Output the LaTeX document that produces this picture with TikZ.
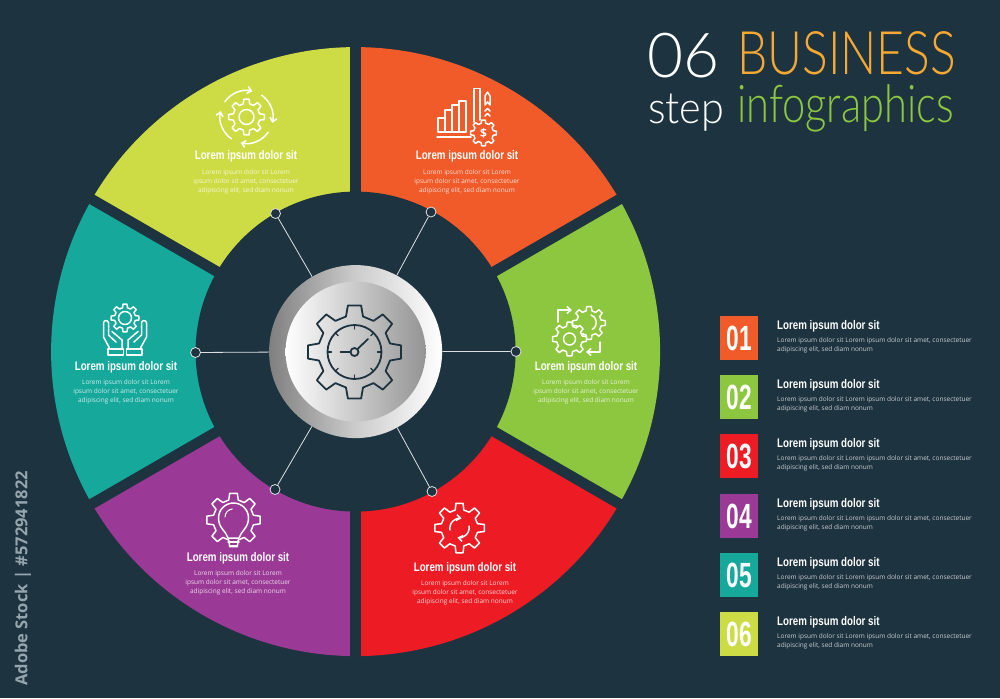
\documentclass[tikz,border=0pt]{standalone}
\usepackage{fontspec}
\usepackage{tikz}
\usetikzlibrary{arrows.meta}
\setmainfont{Open Sans}
\newfontfamily\headfont[FakeStretch=0.78]{Liberation Sans}
\newfontfamily\numfont[FakeStretch=0.65]{Liberation Sans}
\newfontfamily\titlefont{Lato Light}
\newfontfamily\stepfont[FakeStretch=0.94]{Lato Light}
\newfontfamily\busfont[FakeStretch=0.8]{Lato Light}
\newfontfamily\infofont[FakeStretch=0.8]{Lato Light}
\definecolor{bgdark}{HTML}{1E3340}
\definecolor{cOrange}{HTML}{F15A29}
\definecolor{cGreen}{HTML}{8DC63F}
\definecolor{cRed}{HTML}{ED1C24}
\definecolor{cPurple}{HTML}{9B3A96}
\definecolor{cTeal}{HTML}{15A89B}
\definecolor{cYellow}{HTML}{CDDC44}
\definecolor{cTitle}{HTML}{F7A833}
\definecolor{cInfo}{HTML}{8DC63F}
\definecolor{cMark}{HTML}{94A5AE}
\tikzset{
  iconline/.style={draw=white, line width=1.5pt, line cap=round, line join=round},
  iconfill/.style={iconline, fill=cGreen},
  darkline/.style={draw=bgdark, line width=1.8pt, line cap=round, line join=round},
  linkline/.style={draw=white!85!bgdark, line width=0.8pt},
  dotnode/.style={circle, draw=white!85!bgdark, fill=bgdark, line width=0.8pt, minimum size=10pt, inner sep=0pt},
  headtext/.style={text=white, font=\headfont\bfseries\fontsize{12.5}{13}\selectfont},
  bodytext/.style={text=white, text opacity=0.8, align=center, font=\fontsize{6.5}{8.9}\selectfont},
  legtext/.style={text=white!75!bgdark, align=left, anchor=north west, inner sep=0pt, font=\fontsize{6.5}{9}\selectfont},
  numbox/.style={minimum width=38pt, minimum height=44pt, inner sep=0pt, text=white, font=\numfont\bfseries\fontsize{35}{35}\selectfont}
}
% x, y, outer radius, base radius, teeth, line style
\newcommand{\gearicon}[6]{
  \pgfmathsetmacro{\gst}{360/#5}
  \pgfmathsetmacro{\gto}{0.18*\gst}
  \pgfmathsetmacro{\gtb}{0.3*\gst}
  \draw[#6,shift={(#1,#2)}] ({-\gtb}:#4)
    \foreach \i in {1,...,#5} {
      -- ({(\i-1)*\gst-\gtb}:#4) -- ({(\i-1)*\gst-\gto}:#3)
      -- ({(\i-1)*\gst+\gto}:#3) -- ({(\i-1)*\gst+\gtb}:#4)
    } -- cycle;
}
\begin{document}
\begin{tikzpicture}[x=1pt,y=1pt,yscale=-1]
  \useasboundingbox (0,0) rectangle (1000,698);
  \fill[bgdark] (0,0) rectangle (1000,698);

  % ring
  \begin{scope}[shift={(355.6,351.6)}]
    \foreach \a/\c in {-90/cOrange,-30/cGreen,30/cRed,90/cPurple,150/cTeal,210/cYellow} {
      \fill[\c] (0,0) -- (\a:304.5) arc[start angle=\a, end angle=\a+60, radius=304.5] -- cycle;
    }
    \foreach \a in {-90,-30,30} {
      \draw[bgdark, line width=10.5pt] (\a:320) -- ({\a+180}:320);
    }
    \fill[bgdark] (0,0) circle (160);
  \end{scope}

  % hub
  \node[circle, minimum size=173pt, inner sep=0pt, left color=black!50, right color=white, middle color=black!20] (hub) at (355.6,351.6) {};
  \node[circle, minimum size=140pt, inner sep=0pt, left color=white, right color=black!42] (hubin) at (355.6,351.6) {};

  \node[dotnode] (n1) at (431,212) {};
  \node[dotnode] (n2) at (516,351.5) {};
  \node[dotnode] (n3) at (432,491.5) {};
  \node[dotnode] (n4) at (275,489.5) {};
  \node[dotnode] (n5) at (195.5,352.5) {};
  \node[dotnode] (n6) at (275.5,213.5) {};
  \foreach \n in {n1,n2,n3,n4,n5,n6} {
    \draw[linkline] (hub) -- (\n);
  }

  % hub gear
  \gearicon{354.5}{352}{47}{36.5}{8}{darkline}
  \draw[darkline] (354.5,352) circle (27);
  \draw[darkline] (354.5,352) circle (4);
  \draw[darkline] (350.5,352) -- (340.5,352);
  \draw[darkline] (357.5,349) -- (368,339);
  \foreach \a in {0,45,...,315} {
    \draw[darkline, line width=1.1pt, shift={(354.5,352)}] (\a:27) -- (\a:23);
  }

  % wedge texts
  \foreach \x/\y in {246/156.5,467/156.5,586/367,465/568,238/558,126/367} {
    \node[headtext] at (\x,\y) {Lorem ipsum dolor sit};
    \node[bodytext, anchor=north] at (\x,\y+9.5) {Lorem ipsum dolor sit Lorem\\ipsum dolor sit amet, consectetuer\\adipiscing elit, sed diam nonum};
  }

  % icon yellow
  \gearicon{246.5}{117}{18}{13.5}{8}{iconline}
  \draw[iconline] (246.5,117) circle (7.5);
  \foreach \a in {-145,-55,35,125} {
    \draw[iconline, -{Straight Barb[length=4pt,width=7pt]}, shift={(246.5,117)}] (\a:26.5) arc[start angle=\a, end angle=\a+68, radius=26.5];
  }

  % icon orange
  \foreach \x/\t in {438/118,445/110,452/105,459/101} {
    \draw[iconline] (\x,132) rectangle (\x+7,\t);
  }
  \draw[iconline] (474,122) -- (474,88.5) -- (480,88.5) -- (480,120);
  \draw[iconline] (437,137) -- (471,137);
  \draw[iconline] (485,96) -- (487.5,92) -- (490,96) -- (490,105) -- (487.5,102) -- (485,105) -- cycle;
  \draw[iconline] (485,111) -- (487.5,108.5) -- (490,111) (485,116) -- (487.5,113.5) -- (490,116);
  \gearicon{483.5}{133}{13}{10}{8}{iconline}
  \node[text=white, font=\bfseries\fontsize{12}{12}\selectfont, inner sep=0pt] (dollar) at (483.5,133) {\$};

  % icon green
  \gearicon{589}{323}{16.5}{12.5}{8}{iconline}
  \draw[iconline] (591,315) arc[start angle=-70, end angle=60, radius=8];
  \gearicon{569.5}{339}{17}{13}{8}{iconfill}
  \draw[iconline] (569.5,339) circle (6);
  \draw[iconline, -{Straight Barb[length=4pt,width=7pt]}] (558,322) -- (558,310) -- (572,310);
  \draw[iconline, -{Straight Barb[length=4pt,width=7pt]}] (600,342) -- (600,352) -- (586,352);

  % icon red
  \gearicon{459.5}{528}{25}{18.5}{8}{iconline}
  \draw[iconline, -{Straight Barb[length=4pt,width=6pt]}] (450,530) arc[start angle=170, end angle=280, radius=10];
  \draw[iconline, -{Straight Barb[length=4pt,width=6pt]}] (469,526) arc[start angle=-10, end angle=100, radius=10];

  % icon purple
  \gearicon{233.5}{520}{27}{20.5}{8}{iconline}
  \draw[iconline] (228,538) .. controls (226,531) and (218.5,528) .. (218.5,518) arc[start angle=180, end angle=360, radius=15] .. controls (248.5,528) and (241,531) .. (239,538) -- cycle;
  \draw[iconline] (228,542) -- (239,542) (230,546) -- (237,546);
  \draw[iconline, line width=1pt] (225,517) arc[start angle=180, end angle=265, radius=8];

  % icon teal
  \gearicon{125}{318}{14}{10.5}{8}{iconline}
  \draw[iconline] (125,318) circle (6.5);
  \foreach \s in {1,-1} {
    \begin{scope}[shift={(125,0)}, xscale=\s]
      \draw[iconline] (-15.5,348) -- (-21.5,337) -- (-21.5,323) arc[start angle=180, end angle=360, radius=2.5] -- (-16.5,335) -- (-9,342);
      \draw[iconline] (-13,331.5) -- (-3,340) -- (-3,348);
      \draw[iconline] (-17,349) rectangle (-1.5,355);
    \end{scope}
  }

  % legend
  \foreach \i/\y/\c in {1/316/cOrange,2/375/cGreen,3/434/cRed,4/494/cPurple,5/553/cTeal,6/612/cYellow} {
    \node[numbox, fill=\c, anchor=north west] (box\i) at (720,\y) {0\i};
    \node[headtext, anchor=west, inner sep=0pt] (head\i) at (777,\y+10.5) {Lorem ipsum dolor sit};
    \node[legtext] (txt\i) at (777,\y+21) {Lorem ipsum dolor sit Lorem ipsum dolor sit amet, consectetuer\\adipiscing elit, sed diam nonum};
  }

  % title
  \node[text=white, anchor=base west, inner sep=0pt, font=\titlefont\fontsize{62}{62}\selectfont] (num) at (647,78) {06};
  \node[text=white, anchor=base west, inner sep=0pt, font=\stepfont\fontsize{44}{44}\selectfont] (stepword) at (648,124) {step};
  \node[text=cTitle, anchor=base west, inner sep=0pt, font=\busfont\fontsize{60}{60}\selectfont] (bus) at (737,75) {BUSINESS};
  \node[text=cInfo, anchor=base west, inner sep=0pt, font=\infofont\fontsize{52}{52}\selectfont] (info) at (737,122) {infographics};

  % side mark
  \node[text=cMark, rotate=90, anchor=west, inner sep=0pt, font=\bfseries\fontsize{16.5}{16.5}\selectfont] (side) at (23,686) {Adobe Stock | \#572941822};
\end{tikzpicture}
\end{document}
